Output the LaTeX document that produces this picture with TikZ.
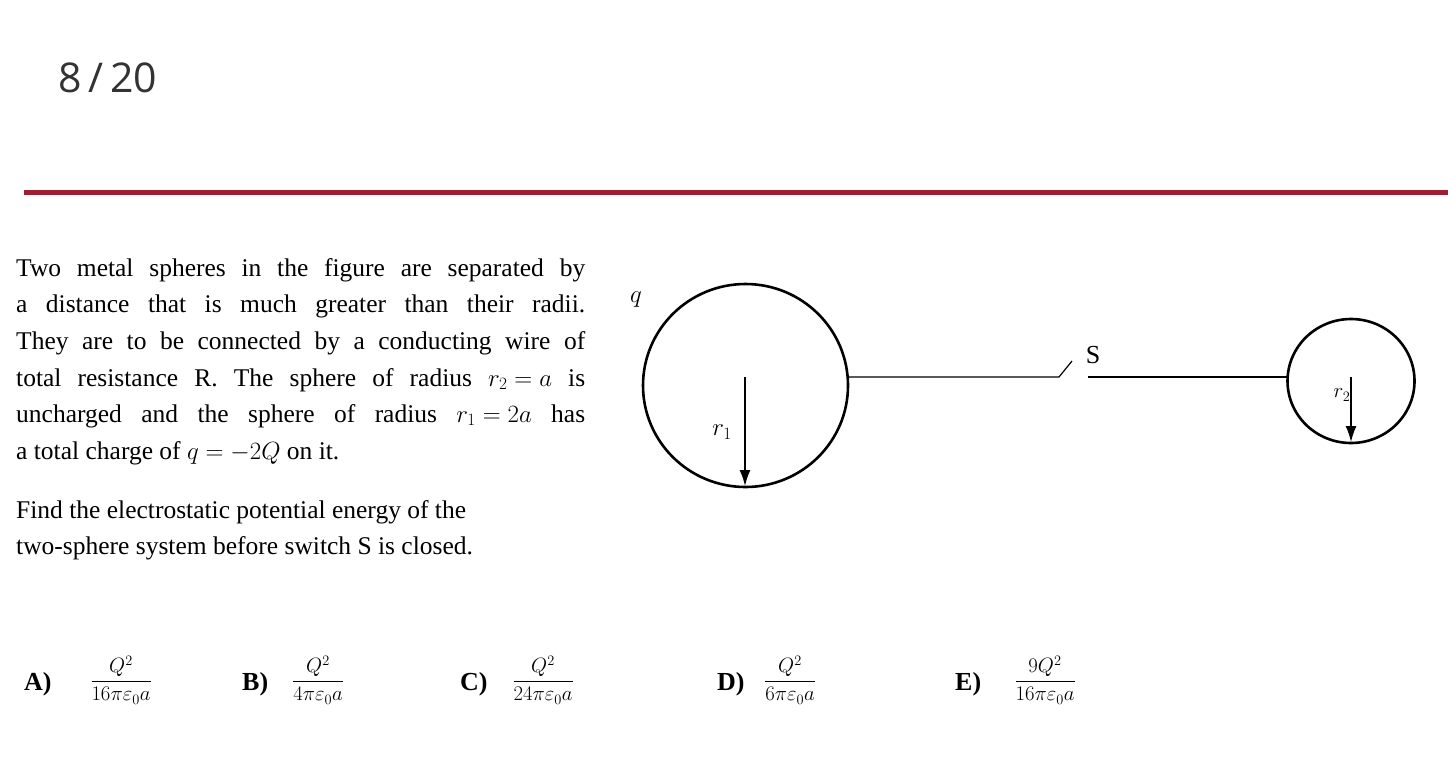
\documentclass[tikz,border=0pt]{standalone}
\usepackage{fontspec}
\usetikzlibrary{arrows.meta}
\setmainfont{Liberation Serif}
\newfontfamily\hdrfont{Open Sans}
\definecolor{barred}{RGB}{158,30,52}
\begin{document}
\begin{tikzpicture}[x=1pt,y=-1pt,
  tl/.style={anchor=base west,inner sep=0pt,font=\fontsize{25.5}{28}\selectfont},
  ans/.style={anchor=base west,inner sep=0pt,font=\fontsize{26}{28}\selectfont\bfseries},
  frc/.style={inner sep=0pt,font=\fontsize{22}{24}\selectfont},
  wire/.style={line width=1.2pt},
  sph/.style={line width=2.6pt},
  rad/.style={line width=1.6pt,-{Latex[length=16pt,width=11pt]}}]
\useasboundingbox[fill=white] (0,0) rectangle (1448,756);
\node[anchor=base west,inner sep=0pt,font=\hdrfont\fontsize{41}{44}\selectfont,text=black!80] (hdr) at (58,92) {8\,/\,20};
\fill[barred] (24,189.5) rectangle (1448,195);
\node[tl] (l1) at (16,276) {\makebox[569pt][s]{Two metal spheres in the figure are separated by}};
\node[tl] (l2) at (16,312) {\makebox[569pt][s]{a distance that is much greater than their radii.}};
\node[tl] (l3) at (16,349) {\makebox[569pt][s]{They are to be connected by a conducting wire of}};
\node[tl] (l4) at (16,386) {\makebox[569pt][s]{total resistance R. The sphere of radius \mbox{$r_2 = a$} is}};
\node[tl] (l5) at (16,422) {\makebox[569pt][s]{uncharged and the sphere of radius \mbox{$r_1 = 2a$} has}};
\node[tl] (l6) at (16,459) {a total charge of \mbox{$q = -2Q$} on it.};
\node[tl] (l7) at (16,518) {Find the electrostatic potential energy of the};
\node[tl] (l8) at (16,554) {two-sphere system before switch S is closed.};
\node[ans] (A) at (24,690) {A)};
\node[frc] (fa) at (121,680) {$\displaystyle\frac{Q^2}{16\pi\varepsilon_0 a}$};
\node[ans] (B) at (242,690) {B)};
\node[frc] (fb) at (318,680) {$\displaystyle\frac{Q^2}{4\pi\varepsilon_0 a}$};
\node[ans] (C) at (460,690) {C)};
\node[frc] (fc) at (543,680) {$\displaystyle\frac{Q^2}{24\pi\varepsilon_0 a}$};
\node[ans] (D) at (717,690) {D)};
\node[frc] (fd) at (790,680) {$\displaystyle\frac{Q^2}{6\pi\varepsilon_0 a}$};
\node[ans] (E) at (955,690) {E)};
\node[frc] (fe) at (1045,680) {$\displaystyle\frac{9Q^2}{16\pi\varepsilon_0 a}$};
% spheres
\draw[sph] (745.5,385.5) ellipse [x radius=102.5,y radius=101.5];
\draw[sph] (1351,381) ellipse [x radius=63.5,y radius=62];
\coordinate (c1) at (745,377);
\coordinate (b1) at (745,486);
\coordinate (c2) at (1351,377);
\coordinate (b2) at (1351,442);
\draw[rad] (c1) -- (b1);
\draw[rad] (c2) -- (b2);
\node[font=\fontsize{24}{26}\selectfont] (r1) at (722,432) {$r_1$};
\node[font=\fontsize{22}{24}\selectfont] (r2) at (1342,395) {$r_2$};
\node[font=\fontsize{26}{28}\selectfont] (q) at (636,300) {$q$};
% wire & switch
\coordinate (w1) at (848,377);
\coordinate (s1) at (1059,377);
\coordinate (s2) at (1072,361);
\coordinate (s3) at (1088,377);
\coordinate (w2) at (1287,377);
\draw[wire] (w1) -- (s1) -- (s2);
\draw[wire] (s3) -- (w2);
\node[font=\fontsize{26}{28}\selectfont] (S) at (1093,355) {S};
\end{tikzpicture}
\end{document}
